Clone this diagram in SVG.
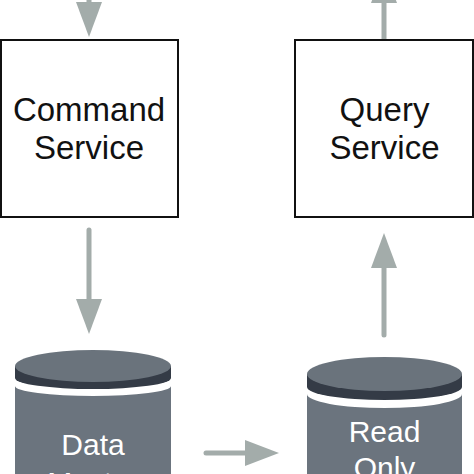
<svg xmlns="http://www.w3.org/2000/svg" width="474" height="474" viewBox="0 0 474 474">
<defs>
<style>
.box{fill:#fff;stroke:#111;stroke-width:2}
.lbl{font-family:"Liberation Sans",Arial,sans-serif;font-size:33px;fill:#111;text-anchor:middle}
.dbl{font-family:"Liberation Sans",Arial,sans-serif;font-size:30px;fill:#fff;text-anchor:middle}
.shaft{stroke:#a3acaa;stroke-width:5;stroke-linecap:round;fill:none}
.head{fill:#a3acaa}
.face{fill:#6a737c}
.rim{fill:#343b46}
.body{fill:#6b747e}
</style>
</defs>
<rect width="474" height="474" fill="#fff"/>
<g id="connectors">
<line class="shaft" x1="89" y1="-10" x2="89" y2="3"/>
<polygon class="head" points="76,2 102,2 89,37"/>
<line class="shaft" x1="384" y1="40" x2="384" y2="-5"/>
<polygon class="head" points="371,3 397,3 384,-32"/>
<line class="shaft" x1="89" y1="230" x2="89" y2="300"/>
<polygon class="head" points="76,299 102,299 89,334"/>
<line class="shaft" x1="384" y1="335" x2="384" y2="266"/>
<polygon class="head" points="371,268 397,268 384,233"/>
<line class="shaft" x1="206" y1="453" x2="246" y2="453"/>
<polygon class="head" points="245,440 245,466 279,453"/>
</g>
<g id="command-service">
<rect class="box" x="1" y="40" width="177" height="177"/>
<text class="lbl" x="89" y="121">Command</text>
<text class="lbl" x="89" y="159">Service</text>
</g>
<g id="query-service">
<rect class="box" x="295" y="40" width="178" height="177"/>
<text class="lbl" x="384.5" y="121">Query</text>
<text class="lbl" x="384.5" y="159">Service</text>
</g>
<g id="data-master">
<path class="body" d="M15,386 A78,10 0 0 0 171,386 L171,480 L15,480 Z"/>
<path class="rim" d="M15,366 L15,378 A78,11 0 0 0 171,378 L171,366 Z"/>
<ellipse class="face" cx="93" cy="366" rx="78" ry="16"/>
<text class="dbl" x="93" y="455">Data</text>
<text class="dbl" x="93" y="493">Master</text>
</g>
<g id="read-only">
<path class="body" d="M307,394 A77.5,14 0 0 0 462,394 L462,480 L307,480 Z"/>
<path class="rim" d="M307,374 L307,387 A77.5,13 0 0 0 462,387 L462,374 Z"/>
<ellipse class="face" cx="384.5" cy="374" rx="77.5" ry="17"/>
<text class="dbl" x="384.5" y="442">Read</text>
<text class="dbl" x="384.5" y="478">Only</text>
</g>
</svg>
